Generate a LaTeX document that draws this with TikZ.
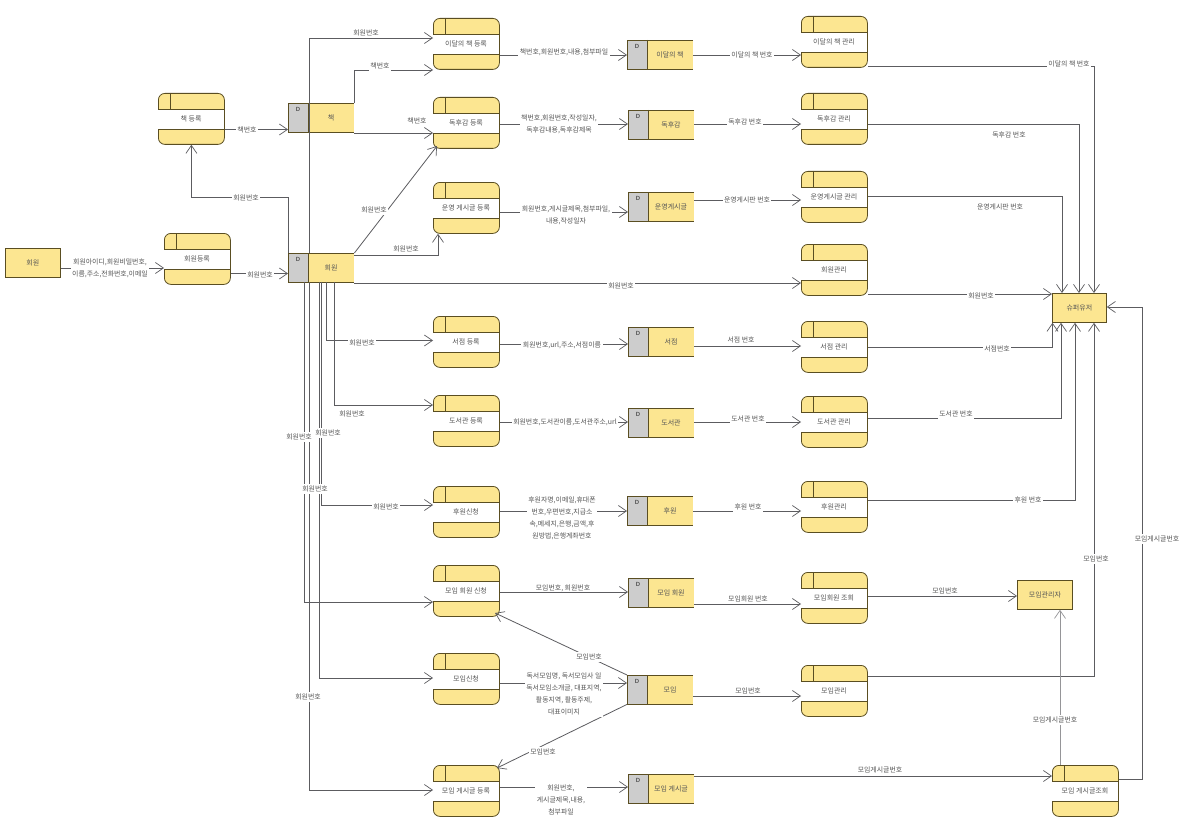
\documentclass[tikz,border=0pt]{standalone}
\usepackage{fontspec}
\setmainfont{Noto Sans CJK KR}
\newfontfamily\latinD{Liberation Sans}
\usetikzlibrary{arrows.meta,calc}
\definecolor{dfdy}{HTML}{FCE691}
\definecolor{dfdg}{HTML}{CDCDCD}
\definecolor{dfdo}{HTML}{5A4E22}
\definecolor{dfdl}{HTML}{5C5C60}
\definecolor{dfdt}{HTML}{555555}
\newcounter{labc}
\tikzset{
  flow/.style={draw=dfdl,line width=0.8pt,-{Straight Barb[length=8pt,width=11pt,line width=0.7pt]}},
  pale/.style={flow,draw=dfdl!65},
  lab/.style={fill=white,inner sep=1.5pt,text=dfdt,font=\fontsize{6.9}{12}\selectfont,align=center},
  barelabel/.style={lab,fill=none},
  txt/.style={inner sep=0pt,text=dfdt,font=\fontsize{7}{8}\selectfont,align=center},
  procbox/.style={draw=dfdo,fill=dfdy,line width=0.8pt,rounded corners=6.5pt,minimum width=66pt,minimum height=51pt,anchor=north west,inner sep=0pt},
  storebox/.style={fill=dfdy,minimum width=66pt,minimum height=29pt,anchor=north west,inner sep=0pt},
  entbox/.style={draw=dfdo,fill=dfdy,line width=0.8pt,minimum width=55pt,minimum height=29pt,anchor=north west,inner sep=0pt},
  div/.style={draw=dfdo,line width=0.8pt}
}
\newcommand{\dfdproc}[4]{%
  \node[procbox] (#1) at (#2,#3) {};
  \fill[white] ({#2+0.4},{#3+16}) rectangle ({#2+65.6},{#3+36});
  \draw[div] (#2,{#3+16}) -- ({#2+66},{#3+16});
  \draw[div] (#2,{#3+36}) -- ({#2+66},{#3+36});
  \draw[div] ({#2+12},#3) -- ({#2+12},{#3+16});
  \node[txt] (#1-t) at ({#2+33},{#3+26}) {#4};
}
\newcommand{\dfdstore}[4]{%
  \node[storebox] (#1) at (#2,#3) {};
  \fill[dfdg] (#2,#3) rectangle ({#2+20},{#3+29});
  \draw[div] ({#2+66},#3) -- (#2,#3) -- (#2,{#3+29}) -- ({#2+66},{#3+29});
  \draw[div] ({#2+20},#3) -- ({#2+20},{#3+29});
  \node[inner sep=0pt,text=dfdt,font=\latinD\bfseries\fontsize{6}{7}\selectfont] (#1-d) at ({#2+10},{#3+6}) {D};
  \node[txt] (#1-t) at ({#2+43},{#3+15}) {#4};
}
\newcommand{\dfdent}[5]{%
  \node[entbox,minimum width=#4 pt] (#1) at (#2,#3) {};
  \node[txt] (#1-t) at (#1) {#5};
}
\newcommand{\dfdlab}[3]{\stepcounter{labc}\node[lab] (l\thelabc) at (#1,#2) {#3};}
\newcommand{\dfdbare}[3]{\stepcounter{labc}\node[barelabel] (l\thelabc) at (#1,#2) {#3};}
\begin{document}
\begin{tikzpicture}[x=1pt,y=-1pt]
\useasboundingbox (0,0) rectangle (1189,824);
\fill[white] (0,0) rectangle (1189,824);
% external entities
\dfdent{member}{5}{247.5}{55}{회원}
\dfdent{super}{1052}{293}{54}{슈퍼유저}
\dfdent{admin}{1017}{580}{55}{모임관리자}
% processes
\dfdproc{pbook}{158}{93}{책 등록}
\dfdproc{pjoin}{164}{233}{회원등록}
\dfdproc{pmbr}{433}{18}{이달의 책 등록}
\dfdproc{prev}{433}{97}{독후감 등록}
\dfdproc{pops}{433}{182}{운영 게시글 등록}
\dfdproc{pshop}{433}{316}{서점 등록}
\dfdproc{plib}{433}{395}{도서관 등록}
\dfdproc{pdon}{433}{486}{후원신청}
\dfdproc{pgjoin}{433}{565}{모임 회원 신청}
\dfdproc{pgreq}{433}{653}{모임신청}
\dfdproc{pgpost}{433}{765}{모임 게시글 등록}
\dfdproc{mmbr}{801}{16}{이달의 책 관리}
\dfdproc{mrev}{801}{93}{독후감 관리}
\dfdproc{mops}{801}{171}{운영게시글 관리}
\dfdproc{mmem}{801}{244}{회원관리}
\dfdproc{mshop}{801}{321}{서점 관리}
\dfdproc{mlib}{801}{396}{도서관 관리}
\dfdproc{mdon}{801}{481}{후원관리}
\dfdproc{mgmem}{801}{572}{모임회원 조회}
\dfdproc{mgrp}{801}{665}{모임관리}
\dfdproc{mgpost}{1052}{765}{모임 게시글조회}
% stores
\dfdstore{sbook}{288}{103}{책}
\dfdstore{smem}{288}{253}{회원}
\dfdstore{smbr}{627}{40}{이달의 책}
\dfdstore{srev}{628}{110}{독후감}
\dfdstore{sops}{628}{192}{운영게시글}
\dfdstore{sshop}{628}{327}{서점}
\dfdstore{slib}{628}{408}{도서관}
\dfdstore{sdon}{627}{496}{후원}
\dfdstore{sgmem}{628}{578}{모임 회원}
\dfdstore{sgrp}{627}{675}{모임}
\dfdstore{sgpost}{628}{774}{모임 게시글}
% left part
\draw[flow] (member.east|-0,268) -- (pjoin.west|-0,268);
\draw[flow] (pjoin.east|-0,273.5) -- (smem.west|-0,273.5);
\draw[flow] (pbook.east|-0,129.5) -- (sbook.west|-0,129.5);
\draw[flow] (smem.north west) |- (0,197 -| pbook.south) -- (pbook.south);
% member number, upper branches
\draw[flow] (309,0|-smem.north) |- (pmbr.west|-0,38);
\draw[flow] (sbook.north east) |- (pmbr.west|-0,70);
\draw[flow] (sbook.east|-0,133) -- (prev.west|-0,133);
\draw[flow] (smem.north east) -- (437,146);
\draw[flow] (smem.east|-0,255) -| (438,0|-pops.south);
\draw[flow] (smem.east|-0,283) -- (mmem.west|-0,283);
% member number, lower branches
\draw[flow] (326,0|-smem.south) |- (pshop.west|-0,340.5);
\draw[flow] (334,0|-smem.south) |- (plib.west|-0,405);
\draw[flow] (321,0|-smem.south) |- (pdon.west|-0,505);
\draw[flow] (304,0|-smem.south) |- (pgjoin.west|-0,602);
\draw[flow] (319.5,0|-smem.south) |- (pgreq.west|-0,678);
\draw[flow] (309.5,0|-smem.south) |- (pgpost.west|-0,790);
% process to store
\draw[flow] (pmbr.east|-0,55) -- (smbr.west|-0,55);
\draw[flow] (prev.east|-0,124) -- (srev.west|-0,124);
\draw[flow] (pops.east|-0,212) -- (sops.west|-0,212);
\draw[flow] (pshop.east|-0,344) -- (sshop.west|-0,344);
\draw[flow] (plib.east|-0,422) -- (slib.west|-0,422);
\draw[flow] (pdon.east|-0,511) -- (sdon.west|-0,511);
\draw[flow] (pgjoin.east|-0,592) -- (sgmem.west|-0,592);
\draw[flow] (pgreq.east|-0,683) -- (sgrp.west|-0,683);
\draw[flow] (pgpost.east|-0,787) -- (sgpost.west|-0,787);
\draw[flow] (sgrp.north west) -- (495,613);
\draw[flow] (sgrp.south west) -- (497,768);
% store to management
\draw[flow] (smbr.east|-0,55) -- (mmbr.west|-0,55);
\draw[flow] (srev.east|-0,124) -- (mrev.west|-0,124);
\draw[flow] (sops.east|-0,200) -- (mops.west|-0,200);
\draw[flow] (sshop.east|-0,346) -- (mshop.west|-0,346);
\draw[flow] (slib.east|-0,422) -- (mlib.west|-0,422);
\draw[flow] (sdon.east|-0,511) -- (mdon.west|-0,511);
\draw[flow] (sgmem.east|-0,604) -- (mgmem.west|-0,604);
\draw[flow] (sgrp.east|-0,696) -- (mgrp.west|-0,696);
\draw[flow] (sgpost.east|-0,776) -- (mgpost.west|-0,776);
% management to super user
\draw[flow] (mmbr.east|-0,66) -| (1094,0|-super.north);
\draw[flow] (mrev.east|-0,124) -| (1079,0|-super.north);
\draw[flow] (mops.east|-0,196) -| (1062,0|-super.north);
\draw[flow] (mmem.east|-0,294) -- (super.west|-0,294);
\draw[flow] (mshop.east|-0,347) -| (1052.5,0|-super.south);
\draw[flow] (mlib.east|-0,418.5) -| (1061,0|-super.south);
\draw[flow] (mdon.east|-0,500) -| (1075,0|-super.south);
\draw[flow] (mgrp.east|-0,676) -| (1094,0|-super.south);
\draw[flow] (mgpost.east|-0,779) -- (1142,779) |- (super.east|-0,307);
\draw[flow] (mgmem.east|-0,596) -- (admin.west|-0,596);
\draw[pale] (1060,0|-mgpost.north) -- (1060,0|-admin.south);
% labels
\dfdlab{110}{268.5}{회원아이디,회원비밀번호,\\이름,주소,전화번호,이메일}
\dfdlab{260}{274.5}{회원번호}
\dfdlab{246}{198}{회원번호}
\dfdlab{247}{129.5}{책번호}
\dfdlab{366}{33}{회원번호}
\dfdlab{380}{66}{책번호}
\dfdbare{417}{121}{책번호}
\dfdlab{374}{210}{회원번호}
\dfdlab{406}{249}{회원번호}
\dfdlab{621}{286}{회원번호}
\dfdlab{362}{343}{회원번호}
\dfdbare{352}{414}{회원번호}
\dfdlab{386}{507}{회원번호}
\dfdlab{299}{437}{회원번호}
\dfdlab{328}{433}{회원번호}
\dfdlab{308}{697}{회원번호}
\dfdlab{315}{489}{회원번호}
\dfdlab{564}{52}{책번호,회원번호,내용,첨부파일}
\dfdlab{559}{124}{책번호,회원번호,작성일자,\\독후감내용,독후감제목}
\dfdlab{566}{215}{회원번호,게시글제목,첨부파일,\\내용,작성일자}
\dfdlab{562}{345}{회원번호,url,주소,서점이름}
\dfdlab{565}{422}{회원번호,도서관이름,도서관주소,url}
\dfdlab{562}{518.5}{후원자명,이메일,휴대폰\\번호,우편번호,지급소\\속,메세지,은행,금액,후\\원방법,은행계좌번호}
\dfdbare{563}{588}{모임번호, 회원번호}
\dfdlab{564}{694}{독서모임명, 독서모임사 일\\독서모임소개글, 대표지역,\\활동지역, 활동주제,\\대표이미지}
\dfdlab{561}{800}{회원번호,\\게시글제목,내용,\\첨부파일}
\dfdlab{589}{657}{모임번호}
\dfdlab{543}{752}{모임번호}
\dfdlab{752}{55}{이달의 책 번호}
\dfdlab{745}{122}{독후감 번호}
\dfdlab{747}{200}{운영게시판 번호}
\dfdbare{741}{340}{서점 번호}
\dfdlab{748}{419}{도서관 번호}
\dfdlab{748}{507}{후원 번호}
\dfdbare{748}{599}{모임회원 번호}
\dfdbare{748}{691}{모임번호}
\dfdbare{880}{770}{모임게시글번호}
\dfdlab{1069}{64}{이달의 책 번호}
\dfdbare{1009}{135}{독후감 번호}
\dfdbare{1000}{207}{운영게시판 번호}
\dfdlab{981}{296}{회원번호}
\dfdlab{997}{349}{서점번호}
\dfdlab{956}{414}{도서관 번호}
\dfdlab{1028}{500}{후원 번호}
\dfdlab{1096}{559}{모임번호}
\dfdlab{1157}{539}{모임게시글번호}
\dfdlab{1055}{720}{모임게시글번호}
\dfdlab{945}{591}{모임번호}
\end{tikzpicture}
\end{document}
